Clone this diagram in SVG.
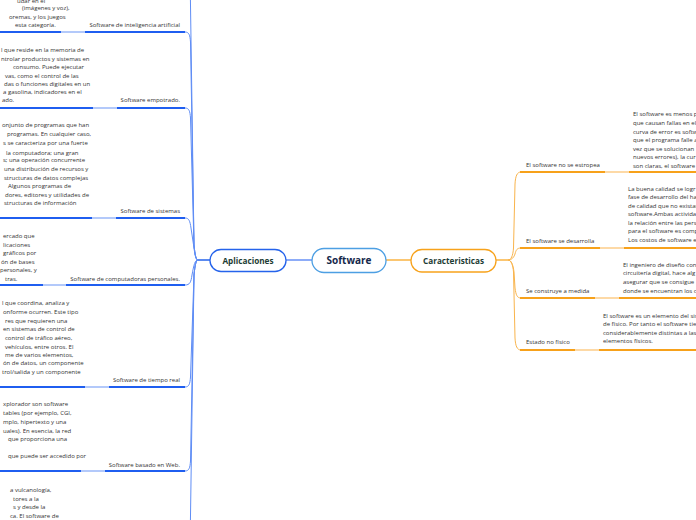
<svg xmlns="http://www.w3.org/2000/svg" width="696" height="520" viewBox="0 0 696 520">
<style>
.t{font-family:"Open Sans","DejaVu Sans",sans-serif;font-size:6px;fill:#333}
.lr{text-anchor:end}
.nt{font-family:"Open Sans","DejaVu Sans",sans-serif;font-weight:bold;text-anchor:middle}
.bu{stroke:#1f5ef0;stroke-width:2;fill:none}
.bl{stroke:#b3c9fa;stroke-width:2;fill:none}
.bc{stroke:#5f8df5;stroke-width:1;fill:none}
.ou{stroke:#f7a11a;stroke-width:2;fill:none}
.ol{stroke:#fdd9a6;stroke-width:2;fill:none}
.oc{stroke:#f9b44c;stroke-width:1;fill:none}
</style>
<rect width="696" height="520" fill="#fff"/>
<g id="connectors">
<path class="bc" d="M185,-40 C189,-40 190,-37 190,-30 L194,245 C195,255 196,260 198,260"/>
<path class="bc" d="M185,32 C189,32 190,35 190.5,42 L194,245 C195,255 196,260 198,260"/>
<path class="bc" d="M185,108 C189,108 190,111 190.5,118 L194,246 C195,255 196,260 198,260"/>
<path class="bc" d="M185,218 C189,218 190,221 191,228 L194,248 C195,256 196,260 198,260"/>
<path class="bc" d="M185,285 C190,285 191,282 192,275 C194,264 195,260 198,260"/>
<path class="bc" d="M185,387 C189,387 190,384 190.5,377 L194,275 C195,265 196,260 198,260"/>
<path class="bc" d="M185,471 C189,471 190,468 190.5,461 L194,275 C195,265 196,260 198,260"/>
<path class="bc" d="M185,560 C189,560 190,557 190,550 L194,275 C195,265 196,260 198,260"/>
<path d="M198,260 H210" stroke="#2563eb" stroke-width="1.5"/>
<path d="M286,260 H312" stroke="#4f7ff5" stroke-width="1.3"/>
<path d="M386,260 H411" stroke="#f9a825" stroke-width="1.3"/>
<path d="M496,260 H508" stroke="#f9a825" stroke-width="1.3"/>
<path class="oc" d="M508,260 C511,260 513,256 513.5,248 L515,184 C515.5,176 517,172 521,172"/>
<path class="oc" d="M508,260 C512,260 514,257 515,254 C516,250 517,248 521,248"/>
<path class="oc" d="M508,260 C511,260 513,264 514,272 L515,288 C516,295 517,298 521,298"/>
<path class="oc" d="M508,260 C511,260 513,265 513.5,272 L515,338 C515.5,346 517,350 521,350"/>
<path class="bu" d="M-2,32 H61 M85,32 H185"/><path class="bl" d="M61,32 H85"/>
<path class="bu" d="M-2,108 H93 M117,108 H185"/><path class="bl" d="M93,108 H117"/>
<path class="bu" d="M-2,218 H92 M116,218 H185"/><path class="bl" d="M92,218 H116"/>
<path class="bu" d="M-2,285 H43 M66,285 H185"/><path class="bl" d="M43,285 H66"/>
<path class="bu" d="M-2,387 H85 M109,387 H185"/><path class="bl" d="M85,387 H109"/>
<path class="bu" d="M-2,471 H81 M105,471 H185"/><path class="bl" d="M81,471 H105"/>
<path class="ou" d="M520,172 H605 M629,172 H698"/><path class="ol" d="M605,172 H629"/>
<path class="ou" d="M520,248 H600 M624,248 H698"/><path class="ol" d="M600,248 H624"/>
<path class="ou" d="M520,298 H595 M619,298 H698"/><path class="ol" d="M595,298 H619"/>
<path class="ou" d="M520,350 H575 M599,350 H698"/><path class="ol" d="M575,350 H599"/>
</g>
<g id="software">
<rect x="312" y="248.5" width="74" height="24" rx="12" fill="#fff" stroke="#4d9fe3" stroke-width="1.3"/>
<text class="nt" x="349" y="264" font-size="10" fill="#15294b">Software</text>
</g>
<g id="aplicaciones">
<rect x="210" y="249.5" width="76" height="22" rx="11" fill="#fff" stroke="#2563eb" stroke-width="1.3"/>
<text class="nt" x="248" y="263.5" font-size="8.2" fill="#1d3c34">Aplicaciones</text>
</g>
<g id="caracteristicas">
<rect x="411" y="249.5" width="85" height="22.5" rx="11" fill="#fff" stroke="#f7a21b" stroke-width="1.3"/>
<text class="nt" x="453.5" y="263.5" font-size="8.2" fill="#1d3c34">Caracteristicas</text>
</g>
<g id="ia">
<text class="t" x="17" y="2.5">udar en el</text>
<text class="t" x="22" y="10">(imágenes y voz),</text>
<text class="t" x="9" y="19">oremas, y los juegos</text>
<text class="t" x="15" y="27.3">esta categoría.</text>
<text class="t lr" x="180" y="27.3">Software de inteligencia artificial</text>
</g>
<g id="empotrado">
<text class="t" x="1" y="52.3">l que reside en la memoria de</text>
<text class="t" x="1" y="61">ntrolar productos y sistemas en</text>
<text class="t" x="13" y="69">consumo. Puede ejecutar</text>
<text class="t" x="5" y="77.6">vas, como el control de las</text>
<text class="t" x="4" y="85.6">das o funciones digitales en un</text>
<text class="t" x="3" y="94.3">a gasolina, indicadores en el</text>
<text class="t" x="2" y="102.3">ado.</text>
<text class="t lr" x="180" y="102.3">Software empotrado.</text>
</g>
<g id="sistemas">
<text class="t" x="2" y="127.3">onjunto de programas que han</text>
<text class="t" x="7" y="136.3">programas. En cualquier caso,</text>
<text class="t" x="3" y="145">s se caracteriza por una fuerte</text>
<text class="t" x="6" y="154.6">la computadora; una gran</text>
<text class="t" x="3" y="162.3">s; una operación concurrente</text>
<text class="t" x="4" y="171.3">una distribución de recursos y</text>
<text class="t" x="4" y="179.6">structuras de datos complejas</text>
<text class="t" x="8" y="188.3">Algunos programas de</text>
<text class="t" x="5" y="196.6">dores, editores y utilidades de</text>
<text class="t" x="4" y="205">structuras de información</text>
<text class="t lr" x="180" y="213.3">Software de sistemas</text>
</g>
<g id="personales">
<text class="t" x="3" y="238.3">ercado que</text>
<text class="t" x="3" y="246.6">licaciones</text>
<text class="t" x="3" y="255.3">gráficos por</text>
<text class="t" x="1" y="264.3">ón de bases</text>
<text class="t" x="0" y="272.3">personales, y</text>
<text class="t" x="5" y="281.3">tras.</text>
<text class="t lr" x="180" y="281.3">Software de computadoras personales.</text>
</g>
<g id="tiemporeal">
<text class="t" x="2" y="305.3">l que coordina, analiza y</text>
<text class="t" x="3" y="314.3">onforme ocurren. Este tipo</text>
<text class="t" x="5" y="323.3">res que requieren una</text>
<text class="t" x="3" y="331.3">en sistemas de control de</text>
<text class="t" x="5" y="340.3">control de tráfico aéreo,</text>
<text class="t" x="5" y="349.3">vehículos, entre otros. El</text>
<text class="t" x="5" y="357.3">me de varios elementos,</text>
<text class="t" x="3" y="365.3">ón de datos, un componente</text>
<text class="t" x="2" y="374.3">trol/salida y un componente</text>
<text class="t lr" x="180" y="382.3">Software de tiempo real</text>
</g>
<g id="web">
<text class="t" x="3" y="406.3">xplorador son software</text>
<text class="t" x="3" y="415.3">tables (por ejemplo, CGI,</text>
<text class="t" x="3" y="424.3">mplo, hipertexto y una</text>
<text class="t" x="3" y="433.3">uales). En esencia, la red</text>
<text class="t" x="8" y="441.3">que proporciona una</text>
<text class="t" x="8" y="458.3">que puede ser accedido por</text>
<text class="t lr" x="180" y="467.3">Software basado en Web.</text>
</g>
<g id="otro">
<text class="t" x="10" y="492.3">a vulcanología,</text>
<text class="t" x="13" y="501.3">tores a la</text>
<text class="t" x="13" y="509.3">s y desde la</text>
<text class="t" x="10" y="518.3">ca. El software de</text>
</g>
<g id="estropea">
<text class="t" x="633" y="116.3">El software es menos p</text>
<text class="t" x="633" y="125.3">que causan fallas en el</text>
<text class="t" x="633" y="134">curva de error es softw</text>
<text class="t" x="633" y="142.3">que el programa falle a</text>
<text class="t" x="633" y="151">vez que se solucionan</text>
<text class="t" x="633" y="159.3">nuevos errores), la cur</text>
<text class="t" x="633" y="168">son claras, el software</text>
<text class="t" x="526" y="167.3">El software no se estropea</text>
</g>
<g id="desarrolla">
<text class="t" x="628" y="191">La buena calidad se logr</text>
<text class="t" x="628" y="199.3">fase de desarrollo del ha</text>
<text class="t" x="628" y="208">de calidad que no existan</text>
<text class="t" x="628" y="216.3">software.Ambas actividad</text>
<text class="t" x="628" y="225">la relación entre las pers</text>
<text class="t" x="628" y="233.3">para el software es comp</text>
<text class="t" x="628" y="242">Los costos de software e</text>
<text class="t" x="526" y="243">El software se desarrolla</text>
</g>
<g id="medida">
<text class="t" x="623" y="267">El ingeniero de diseño con</text>
<text class="t" x="623" y="275.3">circuitería digital, hace alg</text>
<text class="t" x="623" y="284">asegurar que se consigue</text>
<text class="t" x="623" y="293">donde se encuentran los c</text>
<text class="t" x="526" y="293">Se construye a medida</text>
</g>
<g id="nofisico">
<text class="t" x="603" y="318">El software es un elemento del sis</text>
<text class="t" x="603" y="326.3">de físico. Por tanto el software tie</text>
<text class="t" x="603" y="335">considerablemente distintas a las</text>
<text class="t" x="603" y="343.3">elementos físicos.</text>
<text class="t" x="526" y="344">Estado no físico</text>
</g>
</svg>
